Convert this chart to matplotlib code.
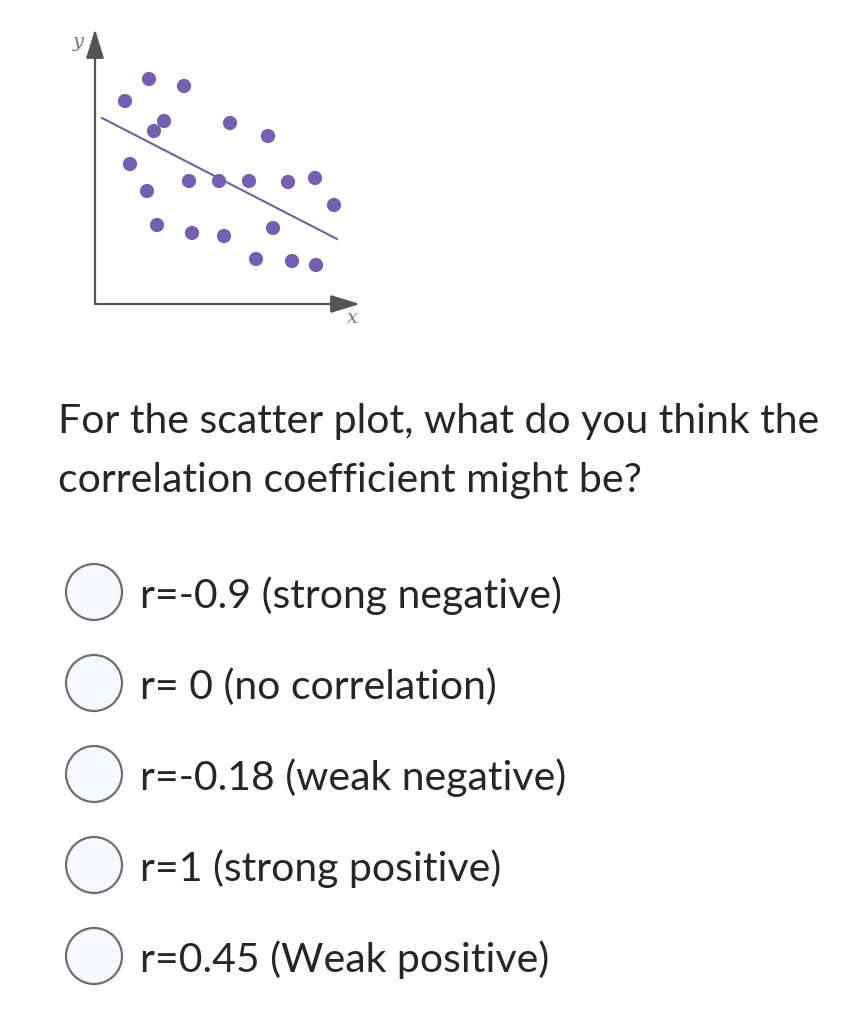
import numpy as np
import matplotlib
matplotlib.use("Agg")
import matplotlib.pyplot as plt
from matplotlib.patches import Circle

# scatter points (pixel-ish units measured from the axis origin)
pts_x = [54, 89, 30, 69, 59, 135, 173, 35, 94, 124, 154, 193, 220, 52, 239,
         62, 97, 129, 178, 161, 197, 221]
pts_y = [225, 218, 203, 183, 173, 181, 168, 140, 123, 123, 123, 122, 126, 113, 99,
         79, 71, 68, 76, 45, 43, 39]
# trend line end points
line_x = [7, 242]
line_y = [186, 65]

question = ["For the scatter plot, what do you think the",
            "correlation coefficient might be?"]
options = ["r=-0.9 (strong negative)",
           "r= 0 (no correlation)",
           "r=-0.18 (weak negative)",
           "r=1 (strong positive)",
           "r=0.45 (Weak positive)"]

W, H = 865, 1012
fig = plt.figure(figsize=(W/100, H/100), dpi=100)
fig.patch.set_facecolor("white")

# scatter panel
ox, oy, xw, yh = 95, 305, 265, 275
ax = fig.add_axes([ox/W, (H-oy)/H, xw/W, yh/H])
ax.set_xlim(0, xw)
ax.set_ylim(0, yh)
for s in ax.spines.values():
    s.set_visible(False)
ax.set_xticks([])
ax.set_yticks([])
ax.patch.set_alpha(0)
ax.scatter(pts_x, pts_y, s=105, color="#7560b0", edgecolors="none", zorder=3)
ax.plot(line_x, line_y, color="#6c6495", lw=1.5, zorder=2)
arr = dict(arrowstyle="-|>,head_length=1.8,head_width=0.55",
           color="#555555", lw=1.6, shrinkA=0, shrinkB=0)
ax.annotate("", xy=(0, yh), xytext=(0, 0), arrowprops=arr)
ax.annotate("", xy=(xw, 0), xytext=(0, 0), arrowprops=arr)
ax.text(-17, yh-12, "y", fontsize=14, fontstyle="italic", family="DejaVu Serif",
        color="#777777", ha="center", va="center")
ax.text(xw-8, -13, "x", fontsize=14, fontstyle="italic", family="DejaVu Serif",
        color="#777777", ha="center", va="center")

# question text and radio options
tx = fig.add_axes([0, 0, 1, 1])
tx.set_xlim(0, W)
tx.set_ylim(H, 0)
tx.axis("off")
tx.patch.set_alpha(0)
txt_col = "#262626"
tx.text(58, 433, question[0], fontsize=29.5, family="Lato", color=txt_col, va="baseline")
tx.text(58, 492, question[1], fontsize=29.5, family="Lato", color=txt_col, va="baseline")

for i, opt in enumerate(options):
    cy = 593 + i*91
    tx.add_patch(Circle((94, cy), 28, facecolor="#f7f8fd", edgecolor="#6e6e6e", lw=1.6))
    tx.text(140, cy + 15, opt, fontsize=29.5, family="Lato", color=txt_col, va="baseline")

fig.savefig("out.png", dpi=100)
